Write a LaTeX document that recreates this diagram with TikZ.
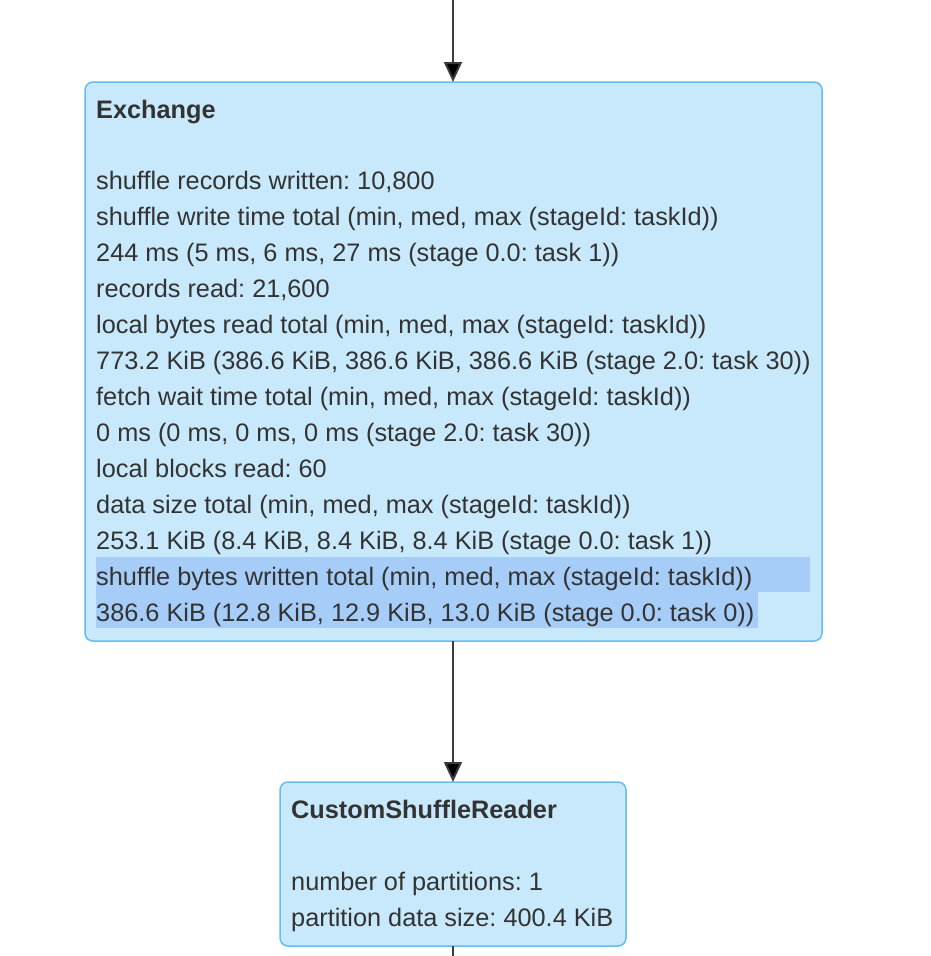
\documentclass[tikz,border=0pt]{standalone}
\usepackage{fontspec}
\setmainfont{Liberation Sans}
\usetikzlibrary{arrows.meta,backgrounds}
\definecolor{boxfill}{RGB}{200,233,252}
\definecolor{boxline}{RGB}{102,187,240}
\definecolor{hilite}{RGB}{166,205,248}
\definecolor{txt}{RGB}{51,51,51}
\definecolor{edge}{RGB}{60,60,60}
\tikzset{
  opbox/.style={draw=boxline, fill=boxfill, line width=1.5pt, rounded corners=8pt},
  ttl/.style={anchor=base west, inner sep=0pt, text=txt, font=\fontsize{25.3}{30}\selectfont\bfseries\frenchspacing},
  ln/.style={anchor=base west, inner sep=0pt, text=txt, font=\fontsize{25.3}{30}\selectfont\frenchspacing},
  flow/.style={draw=edge, line width=2pt, -{Triangle[width=18pt,length=20pt,fill=black]}}
}
\begin{document}
\begin{tikzpicture}[x=1pt,y=-1pt]
\useasboundingbox (0,0) rectangle (930,956);
\coordinate (exTop) at (453,82);
\coordinate (exBot) at (453,641);
\coordinate (csTop) at (453,782);
\coordinate (csBot) at (453,946);
\coordinate (inTop) at (453,0);
\coordinate (outBot) at (453,956);
% Exchange text
\node[ttl] (exT) at (96,118) {Exchange};
\node[ln] (l1) at (96,189) {shuffle records written: 10,800};
\node[ln] (l2) at (96,225) {shuffle write time total (min, med, max (stageId: taskId))};
\node[ln] (l3) at (96,261) {244 ms (5 ms, 6 ms, 27 ms (stage 0.0: task 1))};
\node[ln] (l4) at (96,297) {records read: 21,600};
\node[ln] (l5) at (96,333) {local bytes read total (min, med, max (stageId: taskId))};
\node[ln] (l6) at (96,369) {773.2 KiB (386.6 KiB, 386.6 KiB, 386.6 KiB (stage 2.0: task 30))};
\node[ln] (l7) at (96,405) {fetch wait time total (min, med, max (stageId: taskId))};
\node[ln] (l8) at (96,441) {0 ms (0 ms, 0 ms, 0 ms (stage 2.0: task 30))};
\node[ln] (l9) at (96,477) {local blocks read: 60};
\node[ln] (l10) at (96,513) {data size total (min, med, max (stageId: taskId))};
\node[ln] (l11) at (96,549) {253.1 KiB (8.4 KiB, 8.4 KiB, 8.4 KiB (stage 0.0: task 1))};
\node[ln] (l12) at (96,585) {shuffle bytes written total (min, med, max (stageId: taskId))};
\node[ln] (l13) at (96,621) {386.6 KiB (12.8 KiB, 12.9 KiB, 13.0 KiB (stage 0.0: task 0))};
% CustomShuffleReader text
\node[ttl] (csT) at (291,818) {CustomShuffleReader};
\node[ln] (c1) at (291,890) {number of partitions: 1};
\node[ln] (c2) at (291,926) {partition data size: 400.4 KiB};
\begin{scope}[on background layer]
  \path[opbox] (85,82) rectangle (822,641);
  \path[opbox] (280,782) rectangle (626,946);
  % selection highlight
  \path[fill=hilite] (96,557) rectangle (810,592);
  \path[fill=hilite] (96,592) rectangle ([xshift=3pt]l13.east |- 0,628);
\end{scope}
% connectors
\draw[flow] (inTop) -- (exTop);
\draw[flow] (exBot) -- (csTop);
\draw[draw=edge, line width=2pt] (csBot) -- (outBot);
\end{tikzpicture}
\end{document}
